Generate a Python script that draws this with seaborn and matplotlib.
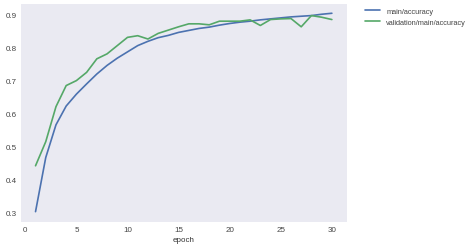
import matplotlib
matplotlib.use("Agg")
import matplotlib.pyplot as plt
import seaborn as sns
import pandas as pd

epochs = list(range(1, 31))
main_accuracy = [0.302, 0.466, 0.565, 0.622, 0.658, 0.689, 0.719, 0.745, 0.767, 0.786,
                 0.805, 0.818, 0.829, 0.836, 0.845, 0.851, 0.857, 0.861, 0.867, 0.872,
                 0.876, 0.879, 0.883, 0.886, 0.889, 0.892, 0.894, 0.896, 0.900, 0.903]
validation_accuracy = [0.441, 0.514, 0.620, 0.684, 0.699, 0.724, 0.765, 0.780, 0.805, 0.830,
                       0.835, 0.825, 0.842, 0.852, 0.862, 0.871, 0.871, 0.868, 0.879, 0.879,
                       0.879, 0.883, 0.866, 0.884, 0.886, 0.887, 0.862, 0.896, 0.891, 0.884]
series_names = ["main/accuracy", "validation/main/accuracy"]

df = pd.DataFrame({
    "epoch": epochs * 2,
    "value": main_accuracy + validation_accuracy,
    "series": [series_names[0]] * len(epochs) + [series_names[1]] * len(epochs),
})

sns.set_style("dark")
plt.rcParams["font.family"] = ["Liberation Sans", "DejaVu Sans"]

fig = plt.figure(figsize=(4.74, 2.51), dpi=100)
ax = fig.add_axes([0.0437, 0.1127, 0.6877, 0.8673])
sns.lineplot(data=df, x="epoch", y="value", hue="series",
             palette=["#4C72B0", "#55A868"], linewidth=1.2, ax=ax)
ax.set_ylabel("")
ax.set_xlabel("epoch", fontsize=5.8, labelpad=2, color="#333333")
ax.set_xticks([0, 5, 10, 15, 20, 25, 30])
ax.set_yticks([0.3, 0.4, 0.5, 0.6, 0.7, 0.8, 0.9])
ax.tick_params(labelsize=5.8, pad=3, colors="#444444", length=0)
ax.set_xlim(-0.45, 31.45)
ax.set_ylim(0.2715, 0.931)
for s in ax.spines.values():
    s.set_visible(False)
leg = ax.legend(loc="upper left", bbox_to_anchor=(1.045, 1.0), frameon=False,
                fontsize=5.3, handlelength=2.1, handletextpad=0.8,
                labelspacing=0.55, borderaxespad=0.1)
for t in leg.get_texts():
    t.set_color("#444444")
fig.savefig("out.png", dpi=100)
